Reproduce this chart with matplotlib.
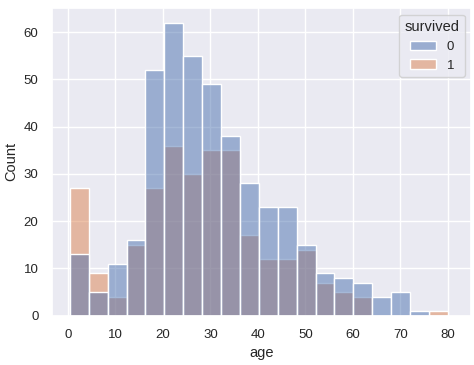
import numpy as np
import pandas as pd
import matplotlib
matplotlib.use('Agg')
import matplotlib.pyplot as plt
import seaborn as sns

# counts per age bin (20 bins from 0.42 to 80)
died = [13, 5, 11, 16, 52, 62, 55, 49, 38, 28, 23, 23, 15, 9, 8, 7, 4, 5, 1, 0]
survived = [27, 9, 4, 15, 27, 36, 30, 35, 35, 17, 12, 12, 14, 7, 5, 4, 0, 0, 0, 1]
age_min, age_max, n_bins = 0.42, 80, 20

sns.set_theme()
plt.rcParams['font.family'] = ['Liberation Sans', 'DejaVu Sans']
plt.rcParams['xtick.labelsize'] = 9.5
plt.rcParams['ytick.labelsize'] = 9.5
plt.rcParams['axes.labelsize'] = 10.5
plt.rcParams['legend.fontsize'] = 9.5
plt.rcParams['legend.title_fontsize'] = 10.5

edges = np.linspace(age_min, age_max, n_bins + 1)
centers = (edges[:-1] + edges[1:]) / 2
df = pd.DataFrame({
    'age': np.concatenate([centers, centers]),
    'survived': [0] * n_bins + [1] * n_bins,
    'count': died + survived,
})

fig, ax = plt.subplots(figsize=(4.74, 3.65), dpi=100)
fig.subplots_adjust(left=0.109, right=0.994, top=0.978, bottom=0.135)
sns.histplot(data=df, x='age', hue='survived', weights='count',
             bins=n_bins, binrange=(age_min, age_max), ax=ax)
ax.set_xlim(-3.4, 84.9)
ax.set_ylabel('Count')
fig.savefig('out.png')
